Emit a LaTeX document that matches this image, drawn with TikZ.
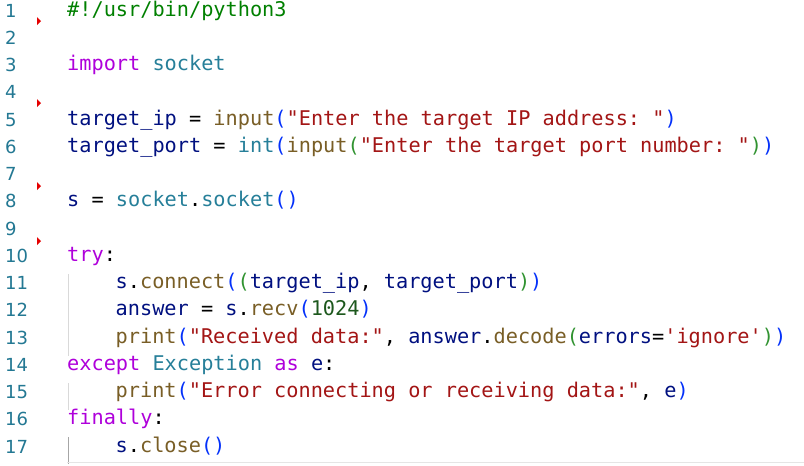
\documentclass[tikz,border=0pt]{standalone}
\usepackage{fontspec}
\setmonofont{DejaVu Sans Mono}
\setsansfont{DejaVu Sans}
\definecolor{kw}{HTML}{AF00DB}
\definecolor{bi}{HTML}{267F99}
\definecolor{id}{HTML}{001080}
\definecolor{st}{HTML}{A31515}
\definecolor{fn}{HTML}{795E26}
\definecolor{pb}{HTML}{0431FA}
\definecolor{pg}{HTML}{319331}
\definecolor{cm}{HTML}{008000}
\definecolor{ln}{HTML}{237893}
\newcommand{\K}[1]{\textcolor{kw}{#1}}
\newcommand{\B}[1]{\textcolor{bi}{#1}}
\newcommand{\I}[1]{\textcolor{id}{#1}}
\newcommand{\St}[1]{\textcolor{st}{#1}}
\newcommand{\F}[1]{\textcolor{fn}{#1}}
\newcommand{\PB}[1]{\textcolor{pb}{#1}}
\newcommand{\PG}[1]{\textcolor{pg}{#1}}
\begin{document}
\begin{tikzpicture}[x=1pt,y=1pt,
  code/.style={anchor=base west,inner sep=0pt,font=\ttfamily\fontsize{20.25}{22}\selectfont},
  num/.style={anchor=base west,inner sep=0pt,text=ln,font=\sffamily\fontsize{18}{20}\selectfont}]
\fill[white] (0,0) rectangle (804,-466);
\useasboundingbox (0,0) rectangle (804,-466);
\def\ys{27.25}
\foreach \i in {1,...,17}{\node[num] (n\i) at (5,{-17-\ys*(\i-1)}) {\i};}
\foreach \yy in {21,103,186,241}{\fill[red!90!black] (37,-\yy+4) -- (41,-\yy) -- (37,-\yy-4) -- cycle;}
% indent guides
\draw[gray!30,line width=0.8pt] (68,-274) -- (68,-356);
\draw[gray!30,line width=0.8pt] (68,-383) -- (68,-410);
\draw[gray!70,line width=0.8pt] (68,-437) -- (68,-464);
\draw[gray!20,line width=1pt] (67,-462.5) -- (804,-462.5);
\def\cx{67}
\def\ix{115.5}
\node[code] (c1) at (\cx,-16) {\textcolor{cm}{\#!/usr/bin/python3}};
\node[code] (c3) at (\cx,{-16-\ys*2}) {\K{import} \B{socket}};
\node[code] (c5) at (\cx,{-16-\ys*4}) {\I{target\_ip} = \F{input}\PB{(}\St{"Enter the target IP address: "}\PB{)}};
\node[code] (c6) at (\cx,{-16-\ys*5}) {\I{target\_port} = \B{int}\PB{(}\F{input}\PG{(}\St{"Enter the target port number: "}\PG{)}\PB{)}};
\node[code] (c8) at (\cx,{-16-\ys*7}) {\I{s} = \B{socket}.\B{socket}\PB{()}};
\node[code] (c10) at (\cx,{-16-\ys*9}) {\K{try}:};
\node[code] (c11) at (\ix,{-16-\ys*10}) {\I{s}.\F{connect}\PB{(}\PG{(}\I{target\_ip}, \I{target\_port}\PG{)}\PB{)}};
\node[code] (c12) at (\ix,{-16-\ys*11}) {\I{answer} = \I{s}.\F{recv}\PB{(}\textcolor{pg!60!black}{1024}\PB{)}};
\node[code] (c13) at (\ix,{-16-\ys*12}) {\F{print}\PB{(}\St{"Received data:"}, \I{answer}.\F{decode}\PG{(}\I{errors}=\St{'ignore'}\PG{)}\PB{)}};
\node[code] (c14) at (\cx,{-16-\ys*13}) {\K{except} \B{Exception} \K{as} \I{e}:};
\node[code] (c15) at (\ix,{-16-\ys*14}) {\F{print}\PB{(}\St{"Error connecting or receiving data:"}, \I{e}\PB{)}};
\node[code] (c16) at (\cx,{-16-\ys*15}) {\K{finally}:};
\node[code] (c17) at (\ix,{-16-\ys*16}) {\I{s}.\F{close}\PB{()}};
\end{tikzpicture}
\end{document}
